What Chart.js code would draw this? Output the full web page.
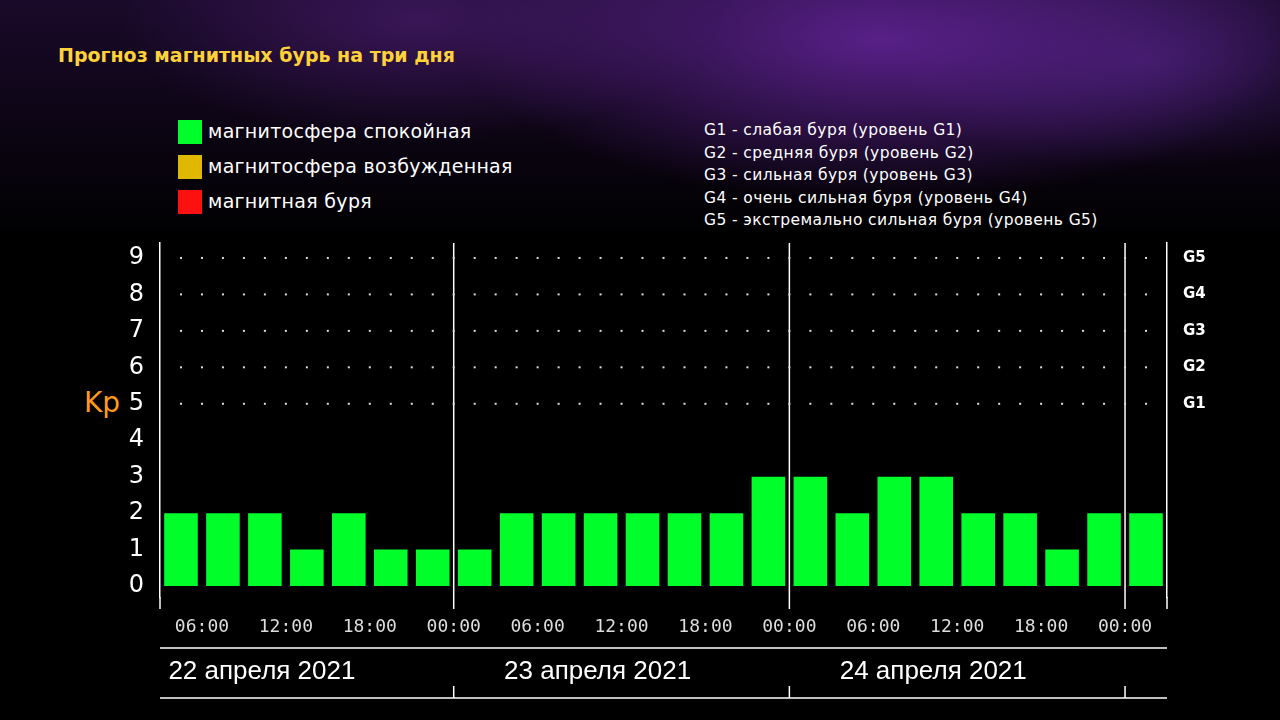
<!DOCTYPE html>
<html><head><meta charset="utf-8">
<script src="https://cdn.jsdelivr.net/npm/chart.js@4/dist/chart.umd.min.js"></script>
<style>
body{margin:0;width:1280px;height:720px;overflow:hidden;background:#000;font-family:"DejaVu Sans",sans-serif;position:relative}
#bg{position:absolute;left:0;top:0;width:1280px;height:720px;background:
radial-gradient(ellipse 420px 160px at 880px 40px,rgba(110,40,170,0.75),transparent),
radial-gradient(ellipse 300px 120px at 420px 20px,rgba(80,30,120,0.6),transparent),
radial-gradient(ellipse 260px 110px at 1150px 60px,rgba(90,40,150,0.5),transparent),
linear-gradient(#1a0a2a 0px,#000 240px)}
canvas{position:absolute;left:0;top:0}
.t{position:absolute;color:#fff}
.sq{position:absolute;width:24px;height:24px}
</style></head><body>
<div id="bg"></div>
<div class="t" style="left:58px;top:44px;color:#ffd23a;font-weight:bold;font-size:19px">Прогноз магнитных бурь на три дня</div>
<div class="sq" style="left:178px;top:120px;background:#00ff2a"></div>
<div class="sq" style="left:178px;top:155px;background:#e0b800"></div>
<div class="sq" style="left:178px;top:190px;background:#ff1010"></div>
<div class="t" style="left:208px;top:120px;font-size:19px;letter-spacing:0.3px">магнитосфера спокойная</div>
<div class="t" style="left:208px;top:155px;font-size:19px;letter-spacing:0.3px">магнитосфера возбужденная</div>
<div class="t" style="left:208px;top:190px;font-size:19px;letter-spacing:0.3px">магнитная буря</div>
<div class="t" style="left:704px;top:119px;font-size:15.5px;line-height:22.5px;font-weight:500;letter-spacing:0.4px">G1 - слабая буря (уровень G1)<br>G2 - средняя буря (уровень G2)<br>G3 - сильная буря (уровень G3)<br>G4 - очень сильная буря (уровень G4)<br>G5 - экстремально сильная буря (уровень G5)</div>
<div class="t" style="left:84px;top:386px;color:#ff9a1a;font-size:28px">Kp</div>
<canvas id="c" width="1280" height="720"></canvas>
<script>
const hours=[4.5,7.5,10.5,13.5,16.5,19.5,22.5,25.5,28.5,31.5,34.5,37.5,40.5,43.5,46.5,49.5,52.5,55.5,58.5,61.5,64.5,67.5,70.5,73.5];
const kp=[2,2,2,1,2,1,1,1,2,2,2,2,2,2,3,3,2,3,3,2,2,1,2,2];
const days=["22 апреля 2021","23 апреля 2021","24 апреля 2021"];
const gLabels={5:"G1",6:"G2",7:"G3",8:"G4",9:"G5"};
const color=v=>v>=5?"#ff1010":v>=4?"#e0b800":"#00ff2a";
const deco={id:"deco",afterDraw(ch){
 const c=ch.ctx,x=ch.scales.x,a=ch.chartArea;
 c.save();c.strokeStyle="#fff";c.lineWidth=1.5;
 [24,48,72].forEach(h=>{const px=x.getPixelForValue(h);c.beginPath();c.moveTo(px,a.top);c.lineTo(px,a.bottom+12);c.stroke();
  c.beginPath();c.moveTo(px,686);c.lineTo(px,698);c.stroke();});
 c.beginPath();c.moveTo(a.left,648);c.lineTo(a.right,648);c.moveTo(a.left,698);c.lineTo(a.right,698);
 c.moveTo(a.left,a.bottom);c.lineTo(a.left,a.bottom+12);c.moveTo(a.right,a.bottom);c.lineTo(a.right,a.bottom+12);c.stroke();
 c.fillStyle="#fff";c.font="26px 'Liberation Sans'";c.textAlign="center";c.textBaseline="middle";
 days.forEach((d,i)=>c.fillText(d,x.getPixelForValue(9+24*i)+18,672));
 c.fillStyle="#ddd";
 for(let v=5;v<=9;v++){const py=ch.scales.y.getPixelForValue(v);for(let h=4.5;h<75;h+=1.5){c.fillRect(x.getPixelForValue(h)-1,py-1,2,2);}}
 c.restore();}};
new Chart(document.getElementById("c"),{type:"bar",
data:{datasets:[{data:hours.map((h,i)=>({x:h,y:kp[i]})),backgroundColor:kp.map(color),barPercentage:0.8,categoryPercentage:1}]},
options:{responsive:false,animation:false,layout:{padding:{top:243}},
plugins:{legend:{display:false},tooltip:{enabled:false}},
scales:{
 x:{type:"linear",offset:false,min:3,max:75,grid:{display:false},border:{display:false},
  afterBuildTicks(s){s.ticks=[6,12,18,24,30,36,42,48,54,60,66,72].map(v=>({value:v}));},
  ticks:{color:"#ddd",font:{size:18,family:"DejaVu Sans Mono"},padding:12,maxRotation:0,autoSkip:false,callback:v=>String(v%24).padStart(2,"0")+":00"},
  afterFit(s){s.height=123;}},
 y:{min:-0.3,max:9.41,grid:{display:false},border:{color:"#fff",width:1.5},
  afterBuildTicks(s){s.ticks=[0,1,2,3,4,5,6,7,8,9].map(v=>({value:v}));},
  ticks:{color:"#fff",font:{size:24,family:"DejaVu Sans"},padding:8},
  afterFit(s){s.width=160;}},
 y2:{position:"right",min:-0.3,max:9.41,grid:{display:false},border:{color:"#fff",width:1.5},
  afterBuildTicks(s){s.ticks=[5,6,7,8,9].map(v=>({value:v}));},
  ticks:{color:"#fff",font:{size:15,family:"DejaVu Sans",weight:"bold"},padding:8,callback:v=>gLabels[v]},
  afterFit(s){s.width=113;}}
}},plugins:[deco]});
</script></body></html>
